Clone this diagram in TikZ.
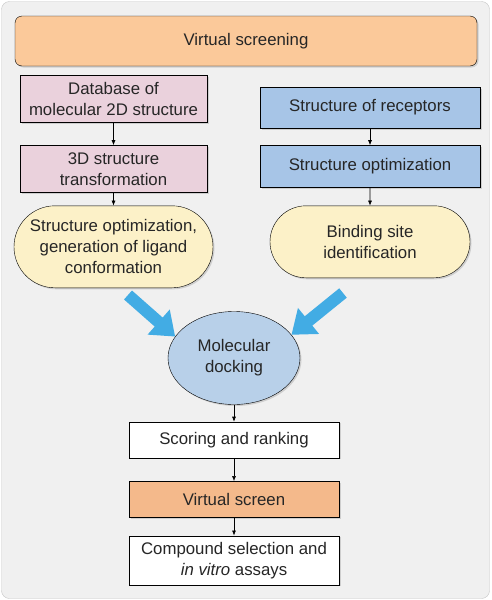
\documentclass[tikz,border=0pt]{standalone}
\usepackage{fontspec}
\setmainfont{Liberation Sans}
\usetikzlibrary{positioning,shapes.geometric,shapes.misc,arrows.meta,shadows}
\definecolor{vspeach}{HTML}{FBC99A}
\definecolor{vspink}{HTML}{EAD1DC}
\definecolor{vsblue}{HTML}{A7C5E7}
\definecolor{vsyellow}{HTML}{FCF1C8}
\definecolor{vsdock}{HTML}{B8D0E9}
\definecolor{vsorange}{HTML}{F4B98B}
\definecolor{vsarrow}{HTML}{42ACE4}
\definecolor{vsframe}{HTML}{F0F0F0}
\tikzset{vsbox/.style={draw, align=center, font=\fontsize{16.8}{21}\selectfont, text=black!85, inner sep=2pt, drop shadow={opacity=0.3, shadow xshift=1.5pt, shadow yshift=-1.5pt}},
  vsstep/.style={vsbox, fill=white, minimum width=210pt},
  vspill/.style={vsbox, rounded rectangle, fill=vsyellow},
  vsflow/.style={-{Latex[length=5pt,width=4pt]}, semithick},
  vsbig/.style={line width=12pt, vsarrow, -{Triangle[length=22pt,width=32pt]}}}

\begin{document}
\begin{tikzpicture}[x=1pt, y=-1pt]
\useasboundingbox (0,0) rectangle (491,600);
\draw[rounded corners=8pt, draw=gray!45, fill=vsframe] (1.5,1.5) rectangle (489.5,598.5);
% top banner
\node[vsbox, fill=vspeach, rounded corners=7pt, minimum width=462pt, minimum height=50pt] (vscreen) at (246,41) {Virtual screening};
% ligand column
\node[vsbox, fill=vspink, minimum width=187pt, minimum height=47pt] (ligdb) at (113.5,98.5) {Database of\\molecular 2D structure};
\node[vsbox, fill=vspink, minimum width=187pt, minimum height=47pt, below=23pt of ligdb] (lig3d) {3D structure\\transformation};
\node[vspill, minimum width=203pt, minimum height=82pt, below=13pt of lig3d] (ligconf) {Structure optimization,\\generation of ligand\\conformation};
% receptor column
\node[vsbox, fill=vsblue, minimum width=220pt, minimum height=41pt] (recstr) at (370,107.5) {Structure of receptors};
\node[vsbox, fill=vsblue, minimum width=220pt, minimum height=42pt, below=17pt of recstr] (recopt) {Structure optimization};
\node[vspill, minimum width=204pt, minimum height=72pt, below=18pt of recopt] (recsite) {Binding site\\identification};
% docking and after
\node[vsbox, ellipse, fill=vsdock, minimum width=132pt, minimum height=93pt] (dock) at (234,358) {Molecular\\docking};
\node[vsstep, minimum height=36pt, below=17pt of dock] (score) {Scoring and ranking};
\node[vsstep, fill=vsorange, minimum height=36pt, below=23pt of score] (vshit) {Virtual screen};
\node[vsstep, minimum height=49pt, below=18pt of vshit] (assay) {Compound selection and\\\textit{in vitro} assays};
\coordinate (ligtail) at (128,295);
\coordinate (rectail) at (343,293);
\draw[vsflow] (ligdb) -- (lig3d);
\draw[vsflow] (lig3d) -- (ligconf);
\draw[vsflow] (recstr) -- (recopt);
\draw[vsflow] (recopt) -- (recsite);
\draw[vsflow] (dock) -- (score);
\draw[vsflow] (score) -- (vshit);
\draw[vsflow] (vshit) -- (assay);
\draw[vsbig] (ligtail) -- (dock.160);
\draw[vsbig] (rectail) -- (dock.22);
\end{tikzpicture}
\end{document}
